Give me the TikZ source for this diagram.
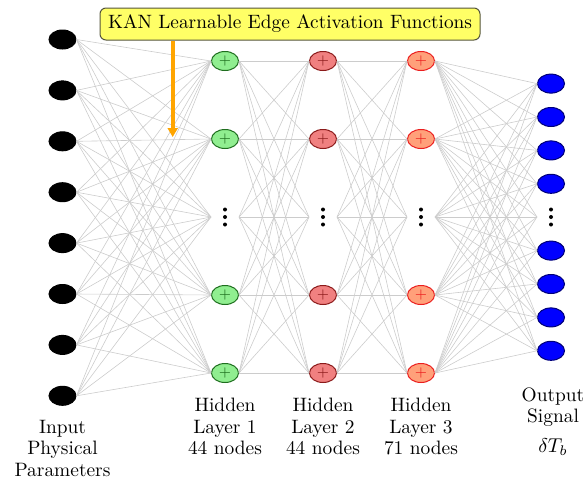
\documentclass[tikz,border=0pt]{standalone}
\usetikzlibrary{shapes.geometric, arrows.meta, calc, positioning}
\definecolor{kanorange}{RGB}{255,165,0}
\definecolor{bannerfill}{RGB}{255,255,102}
\definecolor{bannerdraw}{RGB}{85,85,60}
\definecolor{greenfill}{RGB}{144,238,144}
\definecolor{greendraw}{RGB}{30,110,30}
\definecolor{coralfill}{RGB}{240,128,128}
\definecolor{coraldraw}{RGB}{139,26,26}
\definecolor{salmonfill}{RGB}{255,160,122}
\definecolor{salmondraw}{RGB}{235,30,30}
\definecolor{outfill}{RGB}{0,0,255}
\definecolor{outdraw}{RGB}{0,0,120}
\newcommand{\labelfont}{\fontsize{9.7}{10.75}\selectfont}
\tikzstyle{neuron} = [ellipse, line width=0.5pt, minimum width=13.5pt, minimum height=9.5pt, inner sep=0pt, font=\fontsize{7}{7}\selectfont]
\tikzstyle{inputnode} = [neuron, fill=black, draw=black]
\tikzstyle{hiddenA} = [neuron, fill=greenfill, draw=greendraw, text=greendraw]
\tikzstyle{hiddenB} = [neuron, fill=coralfill, draw=coraldraw, text=coraldraw]
\tikzstyle{hiddenC} = [neuron, fill=salmonfill, draw=salmondraw, text=salmondraw]
\tikzstyle{outputnode} = [neuron, fill=outfill, draw=outdraw]
\tikzstyle{gap} = [neuron]
\tikzstyle{edge} = [draw=gray!40, line width=0.3pt]
\tikzstyle{layerlabel} = [align=center, inner sep=0pt, font=\labelfont]
\tikzstyle{banner} = [rectangle, rounded corners=3pt, fill=bannerfill, draw=bannerdraw, line width=0.5pt, minimum width=190pt, minimum height=16pt, inner sep=0pt, font=\fontsize{9.65}{12}\selectfont]
\tikzstyle{kanarrow} = [draw=kanorange, line width=2pt, -{Triangle[width=5pt,length=4.5pt]}]

\begin{document}
\begin{tikzpicture}[x=0.5pt, y=-0.5pt]
	\useasboundingbox (0,0) rectangle (587,488);
	
	% input layer
	\foreach \i in {1,...,8}
		\node (in-\i) [inputnode] at (62.5, {39.5+50.9*(\i-1)}) {};
	
	% hidden layers, row 3 holds the dots
	\foreach \l/\x/\st in {1/225/hiddenA, 2/323/hiddenB, 3/421/hiddenC} {
		\foreach \i/\y in {1/61, 2/139, 4/295, 5/373}
			\node (h\l-\i) [\st] at (\x,\y) {$+$};
		\node (h\l-3) [gap] at (\x,217) {};
	}
	
	% output layer, row 5 holds the dots
	\foreach \i in {1,2,3,4,6,7,8,9}
		\node (out-\i) [outputnode] at (551, {83.6+33.4*(\i-1)}) {};
	\node (out-5) [gap] at (551,217) {};
	
	% connections
	\foreach \i in {1,...,8}
		\foreach \j in {1,...,5}
			\draw [edge] (in-\i.east) -- (h1-\j.west);
	\foreach \l/\m in {1/2, 2/3}
		\foreach \i in {1,...,5}
			\foreach \j in {1,...,5}
				\draw [edge] (h\l-\i.east) -- (h\m-\j.west);
	\foreach \i in {1,...,5}
		\foreach \j in {1,...,9}
			\draw [edge] (h3-\i.east) -- (out-\j.west);
	
	% dots
	\foreach \n in {h1-3, h2-3, h3-3, out-5}
		\foreach \d in {-7.5, 0, 7.5}
			\fill ($(\n)+(0,\d)$) circle (1pt);
	
	% labels
	\node (InputLabel) [layerlabel, below = 6.9pt of in-8] {Input\\Physical\\Parameters};
	\node (HiddenLabelA) [layerlabel, below = 7.5pt of h1-5] {Hidden\\Layer 1\\44 nodes};
	\node (HiddenLabelB) [layerlabel, below = 7.5pt of h2-5] {Hidden\\Layer 2\\44 nodes};
	\node (HiddenLabelC) [layerlabel, below = 7.5pt of h3-5] {Hidden\\Layer 3\\71 nodes};
	\node (OutputLabel) [layerlabel, anchor=north] at (553,387) {Output\\Signal\\[4pt]$\delta T_b$};
	
	% banner and pointer
	\node (Banner) [banner] at (290,24) {KAN Learnable Edge Activation Functions};
	\coordinate (PointerTip) at (172.7,137);
	\draw [kanarrow] (Banner.south -| PointerTip) -- (PointerTip);
\end{tikzpicture}
\end{document}
